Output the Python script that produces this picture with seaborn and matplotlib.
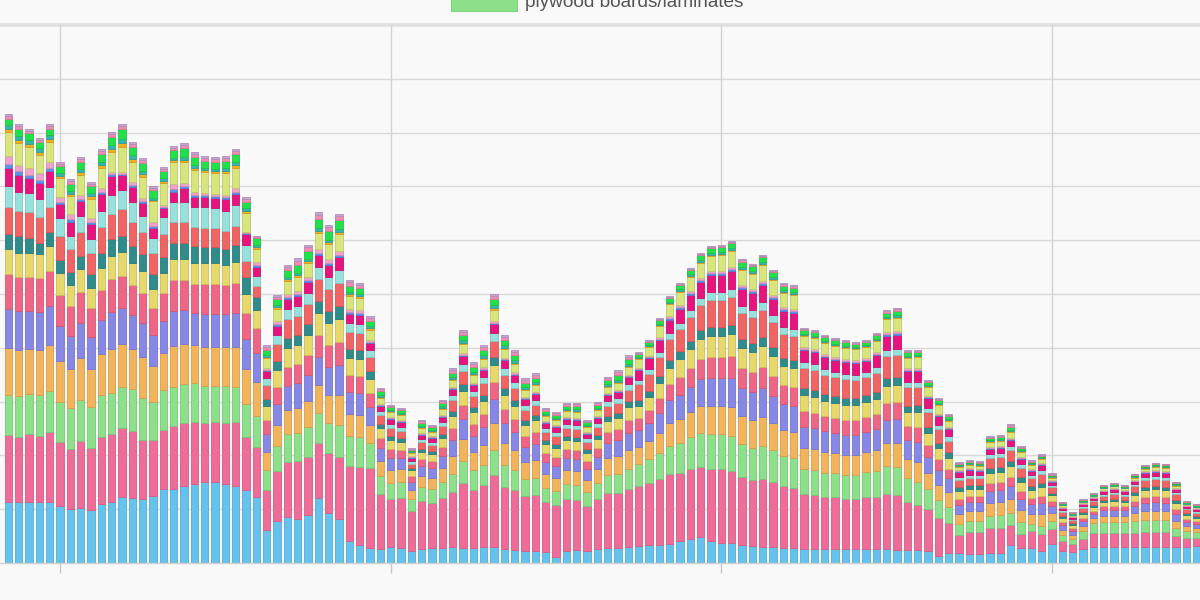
import matplotlib
matplotlib.use("Agg")
import matplotlib.pyplot as plt
import matplotlib.colors as mcolors
from matplotlib.patches import Rectangle
import numpy as np
import pandas as pd
import seaborn as sns

# ---------------- data (one value per period, stacked bottom -> top) ----------------
periods = list(range(116))

blue = [61,61,61,61,61,57,54,55,53,59,61,66,65,64,67,74,74,77,79,81,81,79,77,73,66,
        33,42,46,44,48,65,50,44,22,18,15,
        14,16,15,12,14,15,15,16,15,15,16,16,14,13,12,12,11,6,12,13,12,14,15,15,16,
        17,18,18,19,22,24,26,22,20,20,18,17,16,16,15,15,14,14,14,14,14,14,14,14,14,13,13,13,12,7,
        10,10,9,9,10,10,18,15,15,12,19,12,11,14,16,16,16,16,16,16,16,16,16,16,17]
pink = [67,65,68,66,70,64,60,67,62,67,68,69,67,59,56,59,63,63,62,59,60,61,64,53,50,
        40,50,55,58,58,55,60,62,75,78,80,
        55,48,50,40,48,45,50,55,65,58,62,72,62,60,55,56,50,52,52,50,45,50,55,55,58,
        60,62,66,70,68,70,70,72,74,72,68,66,68,65,62,60,55,54,52,52,50,50,52,52,55,55,48,45,42,38,
        30,18,22,22,25,25,20,14,17,17,15,10,8,10,14,14,14,14,14,15,15,15,11,9,8]
plywood = [40,41,40,41,41,40,41,41,41,42,41,41,42,42,38,40,39,39,39,37,36,37,35,33,31,
           20,25,28,28,30,30,30,32,30,30,25,
           18,16,16,12,14,14,16,18,22,20,20,25,22,20,17,17,14,14,15,15,14,16,18,19,20,
           22,24,26,28,30,32,34,35,35,35,33,32,33,32,30,30,25,25,24,24,24,24,25,26,28,28,24,23,20,18,
           16,11,11,11,12,13,12,12,7,8,8,6,5,8,10,11,11,11,12,12,12,12,8,7,6]
orange = [47,46,45,45,46,41,39,42,38,41,44,43,40,41,36,37,41,40,38,39,39,39,40,35,34,
          18,21,24,25,26,28,28,30,22,22,18,
          15,13,13,9,11,11,14,18,22,18,20,27,22,20,17,18,14,13,14,14,12,14,17,18,19,
          17,18,20,23,24,25,27,28,28,29,28,28,29,27,26,26,21,21,21,20,20,20,20,21,23,24,19,20,16,15,
          15,10,10,10,13,13,14,12,10,12,8,5,4,5,5,6,6,6,8,9,9,9,7,5,4]
purple = [39,39,38,38,39,35,33,35,32,34,37,36,34,34,31,32,35,34,32,33,33,33,34,30,29,
          18,21,24,25,26,28,28,30,22,22,18,
          13,12,11,8,10,10,12,16,20,16,18,24,20,18,15,16,12,12,12,12,11,12,15,16,17,
          17,18,20,23,24,25,27,28,28,29,28,28,29,27,26,26,21,21,21,20,20,20,20,21,23,24,19,20,16,15,
          14,9,9,9,12,12,13,11,10,11,7,5,4,5,4,6,6,6,7,8,9,8,7,4,4]
pinkred = [35,34,34,34,35,31,30,31,29,30,33,32,30,30,27,28,31,30,29,30,30,29,30,26,25,
           14,17,19,19,20,22,22,23,17,17,14,
           10,9,8,6,7,7,9,12,14,12,13,17,14,13,11,12,9,9,9,9,8,9,11,11,13,
           12,13,15,16,18,19,20,21,21,22,20,20,21,20,19,19,16,15,15,15,15,15,15,15,17,17,14,15,12,11,
           9,6,6,6,8,8,9,8,6,7,5,3,3,3,3,4,4,4,5,6,6,6,5,3,3]
yellow = [25,24,24,24,25,22,21,23,20,22,23,24,22,22,19,20,21,21,21,21,21,20,21,19,18,
          14,17,19,19,20,22,22,23,17,17,14,
          10,9,8,6,7,7,9,12,14,12,13,17,14,13,11,12,9,9,9,9,8,9,11,11,13,
          12,13,15,16,18,19,20,21,21,22,20,20,21,20,19,19,16,16,15,15,15,15,15,15,17,17,14,15,12,11,
          11,8,7,7,10,10,11,9,8,9,6,4,3,4,4,4,5,4,6,7,7,7,6,4,3]
teal = [15,17,15,11,14,13,13,13,14,15,17,16,17,17,15,16,16,16,17,16,16,16,17,17,13,
        7,9,10,10,11,12,12,13,9,9,8,
        4,4,4,2,3,3,4,5,7,5,6,8,7,6,5,5,4,4,4,4,4,4,5,5,6,
        6,6,7,8,8,8,9,9,9,9,9,9,9,9,8,8,7,7,7,7,7,7,7,7,8,8,6,7,6,5,
        6,4,4,4,5,5,5,5,4,4,2,2,2,2,2,2,2,2,3,3,3,3,3,2,2]
salmon = [27,25,26,26,25,24,23,24,21,26,25,27,24,22,21,23,21,21,19,19,19,18,19,16,11,
          14,17,19,19,20,22,22,23,17,17,14,
          9,8,7,4,7,6,8,11,13,11,12,16,13,12,10,10,8,8,8,8,7,8,10,10,11,
          16,17,19,21,22,24,25,27,27,28,26,26,27,25,24,24,20,20,19,19,19,18,18,19,22,22,19,18,15,14,
          11,7,7,7,10,10,11,9,8,9,6,4,3,4,4,4,5,4,6,7,7,7,6,4,3]
cyan = [21,19,19,18,20,18,13,16,14,16,19,19,20,16,15,17,20,20,20,21,20,20,21,16,10,
        7,9,10,10,11,12,12,13,9,9,7,
        4,4,4,3,3,3,4,5,7,5,6,8,7,6,5,5,4,4,4,4,4,4,5,5,6,
        4,5,5,6,6,7,7,8,8,8,7,7,8,7,7,7,6,6,6,5,5,5,5,6,6,6,5,5,4,4,
        5,3,3,3,4,4,4,4,3,4,2,2,1,2,1,2,2,2,2,3,3,3,2,1,2]
magenta = [18,17,15,16,16,14,14,15,15,17,19,15,15,13,10,9,10,14,10,10,10,12,11,11,9,
           7,9,10,10,11,12,12,13,9,9,7,
           5,5,5,3,4,4,5,6,8,6,7,9,8,7,6,6,5,5,5,5,4,5,6,6,7,
           10,11,12,13,14,15,16,17,17,18,17,17,17,16,16,16,12,12,12,12,12,12,11,12,14,14,11,11,10,9,
           7,5,5,4,5,5,6,5,4,5,3,2,2,2,2,3,3,3,3,4,4,4,3,2,2]
blue_small = [4,4,3,3,3,2,3,2,2,2,2,1,2,2,2,1,3,2,2,2,2,2,2,1,2,
              1,2,2,2,2,2,2,2,2,2,1,
              1,1,1,1,1,1,1,1,1,1,1,1,1,1,1,1,1,1,1,1,1,1,1,1,1,
              1,1,1,2,2,2,2,2,2,2,2,2,2,2,2,2,1,1,1,1,1,1,1,1,2,2,1,1,1,1,
              1,1,1,1,1,1,1,1,1,1,1,0,0,0,0,0,0,0,0,1,1,1,0,0,0]
pink_light = [8,6,7,7,6,5,5,4,4,4,2,2,3,3,4,2,5,3,3,2,2,2,4,1,3,
              2,3,3,3,3,4,4,4,3,3,2,
              1,1,1,1,1,1,1,1,2,1,2,2,1,2,1,1,1,1,1,1,1,1,1,1,1,
              1,1,2,2,2,2,2,2,2,2,2,2,2,2,2,2,2,2,2,2,2,2,2,2,2,2,2,2,1,1,
              1,1,1,1,1,1,1,1,1,1,1,1,1,1,1,1,1,1,1,1,1,1,1,1,1]
yellow_green = [24,22,21,18,20,19,18,20,19,20,20,25,20,21,21,22,22,21,22,21,21,22,20,19,13,
                10,12,13,14,14,16,15,17,13,12,10,
                6,5,5,3,5,4,6,7,9,8,8,11,9,8,7,7,5,5,6,6,5,6,6,7,8,
                9,9,11,12,13,14,15,15,16,16,15,15,16,15,14,14,11,11,11,11,11,11,11,11,13,13,10,11,9,9,
                6,3,3,3,5,5,6,5,4,4,2,2,1,1,1,2,2,2,2,2,3,3,2,1,1]
orange_small = [3,3,3,3,3,2,2,3,3,3,3,4,3,3,1,2,2,2,2,2,2,2,3,2,2,
                1,2,2,2,2,2,2,2,2,2,2,
                1,1,1,1,1,1,1,1,1,1,1,2,1,1,1,1,1,1,1,1,1,1,1,1,1,
                1,1,1,1,1,1,1,1,1,1,1,1,1,1,1,1,1,1,1,1,1,1,1,1,1,1,1,1,1,1,
                1,1,1,1,1,1,1,1,1,1,1,0,0,0,0,0,0,0,1,1,1,1,1,0,0]
teal_small = [4,4,4,4,4,3,3,3,3,3,4,4,4,3,2,3,2,3,3,2,2,3,3,3,2,
              2,2,2,2,2,3,2,3,2,2,2,
              2,1,1,1,1,1,2,2,3,2,3,3,3,3,2,2,1,1,1,2,1,1,2,2,2,
              1,1,1,1,2,2,2,2,2,2,2,2,2,2,2,2,1,1,1,1,1,1,1,1,1,2,1,1,1,1,
              1,1,1,1,1,1,1,1,1,1,1,1,1,1,1,1,1,1,1,1,1,1,1,1,1]
green_bright = [6,7,7,6,6,7,7,7,7,8,8,10,8,8,8,7,8,9,8,7,7,7,8,6,7,
                5,6,7,8,8,9,9,9,6,6,5,
                4,3,3,1,3,3,3,4,5,5,5,6,5,5,4,4,3,3,3,3,3,3,4,5,5,
                3,3,4,4,4,4,5,5,5,5,5,5,5,5,4,4,4,4,4,4,4,3,3,4,4,4,4,3,3,3,
                3,1,1,1,2,2,3,2,1,1,1,1,1,1,1,1,1,1,1,1,1,1,1,1,1]
pink_top = [3,3,2,2,3,2,3,3,2,3,3,3,3,3,2,2,2,3,3,3,3,3,3,3,1,
            3,2,3,4,4,4,4,4,4,3,3,
            2,1,1,1,2,1,2,3,3,3,3,3,3,3,3,3,2,2,2,2,1,2,2,3,2,
            1,1,1,1,1,1,1,1,1,1,2,1,1,1,2,2,1,1,1,1,1,1,1,1,2,2,1,1,1,1,
            1,1,1,1,1,1,2,1,1,1,1,1,1,1,1,1,1,1,1,1,1,1,1,1,1]
lavender = [2,2,2,2,2,2,2,2,2,2,2,2,2,2,2,2,2,2,2,2,2,2,2,2,1,
            2,2,2,3,2,3,2,2,2,2,2,
            1,1,1,1,1,1,1,2,2,2,2,2,2,2,2,2,1,1,1,1,1,1,1,2,2,
            1,1,1,1,1,1,1,1,1,1,1,1,1,1,1,1,1,1,1,1,1,1,1,1,1,1,1,1,1,1,
            1,1,1,1,1,1,1,1,1,1,1,0,0,0,0,0,0,0,0,0,0,0,0,0,0]

series = [
    ("blue", blue, "#64c2ec"),
    ("pink", pink, "#f06c98"),
    ("plywood boards/laminates", plywood, "#8ce08a"),
    ("orange", orange, "#f1b45a"),
    ("purple", purple, "#8787e6"),
    ("pinkred", pinkred, "#ef6586"),
    ("yellow", yellow, "#e6d86a"),
    ("teal", teal, "#2f8c8a"),
    ("salmon", salmon, "#f06464"),
    ("cyan", cyan, "#97e0dc"),
    ("magenta", magenta, "#e6147c"),
    ("blue_small", blue_small, "#5f90ef"),
    ("pink_light", pink_light, "#f0a2c8"),
    ("yellow_green", yellow_green, "#d8e47c"),
    ("orange_small", orange_small, "#f2b020"),
    ("teal_small", teal_small, "#36b4a8"),
    ("green_bright", green_bright, "#22e04a"),
    ("pink_top", pink_top, "#f08cb2"),
    ("lavender", lavender, "#c9a2d2"),
]

# ---------------- figure ----------------
BG = "#f9f9f9"
fig = plt.figure(figsize=(12, 6), dpi=100, facecolor=BG)
ax = fig.add_axes([0, 1 - 563 / 600, 1, (563 - 25) / 600])
ax.set_facecolor(BG)

step = 53.8
ymax = 10 * step

# grid
for k in range(1, 10):
    ax.axhline(k * step, color="#d9d9d9", lw=1.0, zorder=0)
ax.axhline(ymax, color="#e0e0e0", lw=2.6, zorder=0, clip_on=False)
for p in [5, 37, 69, 101]:
    ax.axvline(p, color="#d2d2d2", lw=1.0, zorder=0)

bottom = np.zeros(len(periods))
for name, vals, col in series:
    v = np.array(vals, dtype=float)
    rgb = np.array(mcolors.to_rgb(col))
    edge = tuple(rgb * 0.88)
    df = pd.DataFrame({"period": periods, "value": v})
    sns.barplot(data=df, x="period", y="value", color=col, saturation=1,
                width=0.70, bottom=bottom.copy(), errorbar=None,
                edgecolor=edge, linewidth=0.6, ax=ax, zorder=2)
    bottom += v

ax.set_xlim(-8.33 / 10.333, (1200 - 8.33) / 10.333)
ax.set_ylim(0, ymax)
ax.set_xlabel("")
ax.set_ylabel("")
ax.set_yticks([])
ax.set_xticks([5, 37, 69, 101])
ax.set_xticklabels([])
ax.tick_params(axis="x", length=7, width=1, color="#c8c8c8", direction="out")
for s in ["top", "left", "right"]:
    ax.spines[s].set_visible(False)
ax.spines["bottom"].set_color("#d0d0d0")
ax.spines["bottom"].set_linewidth(1.0)

# legend fragment (top, partly cut off)
fig.patches.append(Rectangle((451 / 1200, 1 - 10.5 / 600), 66 / 1200, 20 / 600,
                             transform=fig.transFigure, facecolor="#8ce08a",
                             edgecolor="#80d680", lw=0.8))
fig.text(525 / 1200, 1 - 6.7 / 600, "plywood boards/laminates", fontsize=13.7,
         color="#555555", family=["Liberation Sans", "DejaVu Sans"], va="baseline", ha="left")

fig.savefig("out.png", dpi=100, facecolor=BG)
